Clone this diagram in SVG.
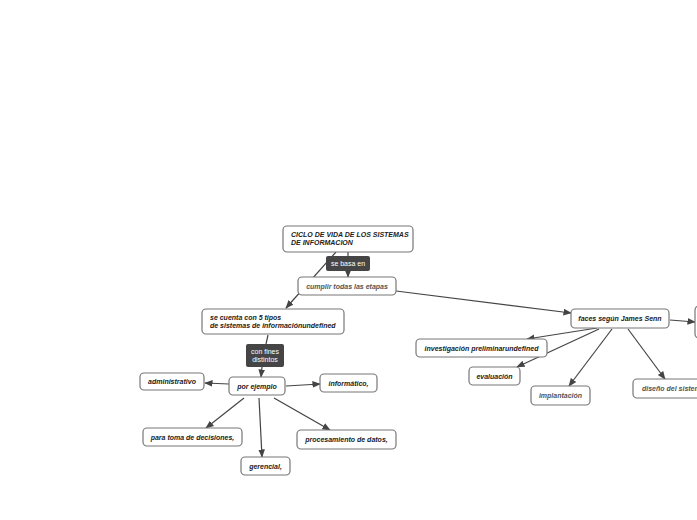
<svg xmlns="http://www.w3.org/2000/svg" width="697" height="520" viewBox="0 0 697 520">
<style>
.n{fill:#fff;stroke:#777;stroke-width:1.2}
.t{font-family:"Liberation Sans",Arial,sans-serif;font-size:7px;font-weight:bold;font-style:italic;fill:#222}
.g{fill:#555}
.l{fill:#454545}
.lt{font-family:"Liberation Sans",Arial,sans-serif;font-size:7px;fill:#fff}
.c{stroke:#444;stroke-width:1.2;fill:none;marker-end:url(#a)}
.c2{stroke:#444;stroke-width:1.2;fill:none}
</style>
<defs><marker id="a" viewBox="0 0 10 10" refX="9" refY="5" markerWidth="7" markerHeight="7" orient="auto"><path d="M0,1L10,5L0,9z" fill="#444"/></marker></defs>
<rect width="697" height="520" fill="#fff"/>
<g id="connectors">
<path class="c2" d="M348,252V256"/><path class="c" d="M348,271V277"/>
<path class="c" d="M336,252L286,308"/>
<path class="c" d="M396,291L571,313"/>
<path class="c2" d="M268,335L266,344"/><path class="c" d="M262,367L261,377"/>
<path class="c" d="M229,384L205,383"/>
<path class="c" d="M286,386L320,384"/>
<path class="c" d="M244,398L206,428"/>
<path class="c" d="M259,398L262,457"/>
<path class="c" d="M274,398L330,430"/>
<path class="c" d="M670,320L695,322"/>
<path class="c" d="M597,328L527,339"/>
<path class="c" d="M599,329L517,367"/>
<path class="c" d="M612,329L569,386"/>
<path class="c" d="M628,329L665,379"/>
</g>
<g id="root"><rect class="n" x="283" y="226" width="130" height="26" rx="4"/><text class="t" x="291" y="237">CICLO DE VIDA DE LOS SISTEMAS</text><text class="t" x="291" y="244.5">DE INFORMACION</text></g>
<g id="lbl1"><rect class="l" x="326" y="256" width="44" height="15" rx="2"/><text class="lt" x="348" y="266" text-anchor="middle">se basa en</text></g>
<g id="cumplir"><rect class="n" x="298" y="277" width="98" height="18" rx="4"/><text class="t g" x="347" y="288.5" text-anchor="middle">cumplir todas las etapas</text></g>
<g id="secuenta"><rect class="n" x="202" y="309" width="142" height="25" rx="4"/><text class="t" x="210" y="320">se cuenta con 5 tipos</text><text class="t" x="210" y="328">de sistemas de informaciónundefined</text></g>
<g id="lbl2"><rect class="l" x="246" y="344" width="38" height="23" rx="2"/><text class="lt" x="265" y="353.5" text-anchor="middle">con fines</text><text class="lt" x="265" y="361.5" text-anchor="middle">distintos</text></g>
<g id="por"><rect class="n" x="229" y="377" width="56" height="18" rx="4"/><text class="t" x="257" y="388.5" text-anchor="middle">por ejemplo</text></g>
<g id="adm"><rect class="n" x="140" y="373" width="64" height="17" rx="4"/><text class="t" x="172" y="384" text-anchor="middle">administrativo</text></g>
<g id="inf"><rect class="n" x="320" y="374" width="57" height="18" rx="4"/><text class="t" x="348.5" y="385.5" text-anchor="middle">informático,</text></g>
<g id="toma"><rect class="n" x="143" y="428" width="99" height="18" rx="4"/><text class="t" x="192.5" y="439.5" text-anchor="middle">para toma de decisiones,</text></g>
<g id="ger"><rect class="n" x="241" y="457" width="49" height="18" rx="4"/><text class="t" x="265.5" y="468.5" text-anchor="middle">gerencial,</text></g>
<g id="proc"><rect class="n" x="297" y="430" width="99" height="19" rx="4"/><text class="t" x="346.5" y="442" text-anchor="middle">procesamiento de datos,</text></g>
<g id="faces"><rect class="n" x="571" y="309" width="98" height="19" rx="4"/><text class="t" x="620" y="321" text-anchor="middle">faces según James Senn</text></g>
<g id="right"><rect class="n" x="695" y="306" width="70" height="32" rx="4"/></g>
<g id="inv"><rect class="n" x="416" y="339" width="131" height="18" rx="4"/><text class="t" x="481.5" y="350.5" text-anchor="middle">investigación preliminarundefined</text></g>
<g id="eva"><rect class="n" x="469" y="367" width="51" height="18" rx="4"/><text class="t" x="494.5" y="378.5" text-anchor="middle">evaluación</text></g>
<g id="imp"><rect class="n" x="531" y="386" width="59" height="19" rx="4"/><text class="t g" x="560.5" y="398" text-anchor="middle">implantación</text></g>
<g id="dis"><rect class="n" x="633" y="379" width="90" height="19" rx="4"/><text class="t g" x="642" y="391">diseño del sistema</text></g>
</svg>
